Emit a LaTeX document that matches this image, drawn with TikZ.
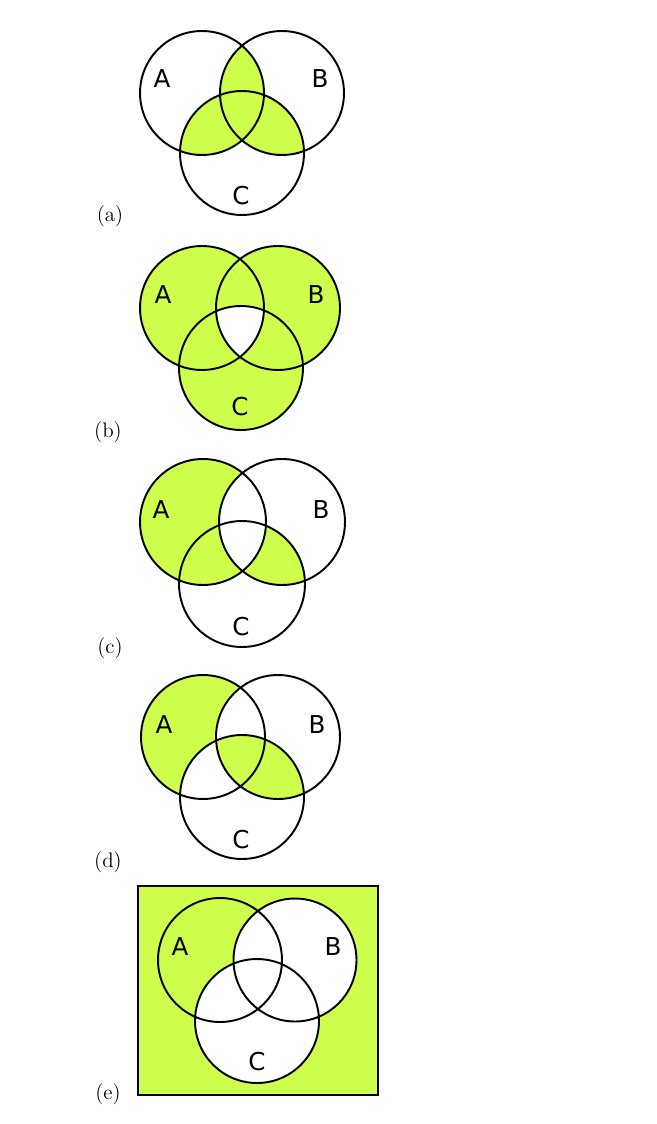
\documentclass[tikz,border=0pt]{standalone}
\usepackage{fontspec}
\newfontfamily\lettfont{DejaVu Sans}
\usetikzlibrary{positioning}
\definecolor{lime}{RGB}{206,255,76}

\begin{document}
\begin{tikzpicture}[x=0.02cm,y=-0.02cm,
  venn/.style={black, line width=1.1pt},
  lett/.style={font=\lettfont\fontsize{14}{14}\selectfont},
  tag/.style={font=\fontsize{12}{12}\selectfont}]
\useasboundingbox (0,0) rectangle (656,1124);

%(a) pairwise intersections
\begin{scope}
\clip (202,93) circle (1.24cm);
\fill[lime] (282,93) circle (1.24cm);
\fill[lime] (242,153) circle (1.24cm);
\end{scope}
\begin{scope}
\clip (282,93) circle (1.24cm);
\fill[lime] (242,153) circle (1.24cm);
\end{scope}
\draw[venn] (202,93) circle (1.24cm) (282,93) circle (1.24cm) (242,153) circle (1.24cm);
\node[lett] (la) at (162,79) {A};
\node[lett] (lb) at (320,79) {B};
\node[lett] (lc) at (241,196) {C};
\node[tag] (ta) at (110,216) {(a)};

%(b) all but triple
\fill[lime] (202,308) circle (1.24cm) (278,308) circle (1.24cm) (241,368) circle (1.24cm);
\begin{scope}
\clip (202,308) circle (1.24cm);
\clip (278,308) circle (1.24cm);
\fill[white] (241,368) circle (1.24cm);
\end{scope}
\draw[venn] (202,308) circle (1.24cm) (278,308) circle (1.24cm) (241,368) circle (1.24cm);
\node[lett] (la2) at (163,295) {A};
\node[lett] (lb2) at (316,295) {B};
\node[lett] (lc2) at (240,407) {C};
\node[tag] (tb) at (108,432) {(b)};

%(c)
\fill[lime] (203,522) circle (1.26cm);
\begin{scope}
\clip (203,522) circle (1.26cm);
\fill[white] (282,522) circle (1.26cm);
\end{scope}
\begin{scope}
\clip (282,522) circle (1.26cm);
\fill[lime] (242,584) circle (1.26cm);
\clip (203,522) circle (1.26cm);
\fill[white] (242,584) circle (1.26cm);
\end{scope}
\draw[venn] (203,522) circle (1.26cm) (282,522) circle (1.26cm) (242,584) circle (1.26cm);
\node[lett] (la3) at (161,510) {A};
\node[lett] (lb3) at (321,510) {B};
\node[lett] (lc3) at (241,627) {C};
\node[tag] (tc) at (110,648) {(c)};

%(d)
\fill[lime] (203,737) circle (1.24cm);
\begin{scope}
\clip (203,737) circle (1.24cm);
\fill[white] (278,737) circle (1.24cm) (242,797) circle (1.24cm);
\end{scope}
\begin{scope}
\clip (278,737) circle (1.24cm);
\fill[lime] (242,797) circle (1.24cm);
\end{scope}
\draw[venn] (203,737) circle (1.24cm) (278,737) circle (1.24cm) (242,797) circle (1.24cm);
\node[lett] (la4) at (164,725) {A};
\node[lett] (lb4) at (317,725) {B};
\node[lett] (lc4) at (241,840) {C};
\node[tag] (td) at (108,862) {(d)};

%(e) complement of B and C
\fill[lime] (138,886) rectangle (378,1095);
\fill[white] (295,960) circle (1.23cm) (257,1021) circle (1.24cm);
\draw[venn] (138,886) rectangle (378,1095);
\draw[venn] (220,960) circle (1.24cm) (295,960) circle (1.23cm) (257,1021) circle (1.24cm);
\node[lett] (la5) at (180,947) {A};
\node[lett] (lb5) at (333,947) {B};
\node[lett] (lc5) at (257,1062) {C};
\node[tag] (te) at (108,1094) {(e)};
\end{tikzpicture}
\end{document}
